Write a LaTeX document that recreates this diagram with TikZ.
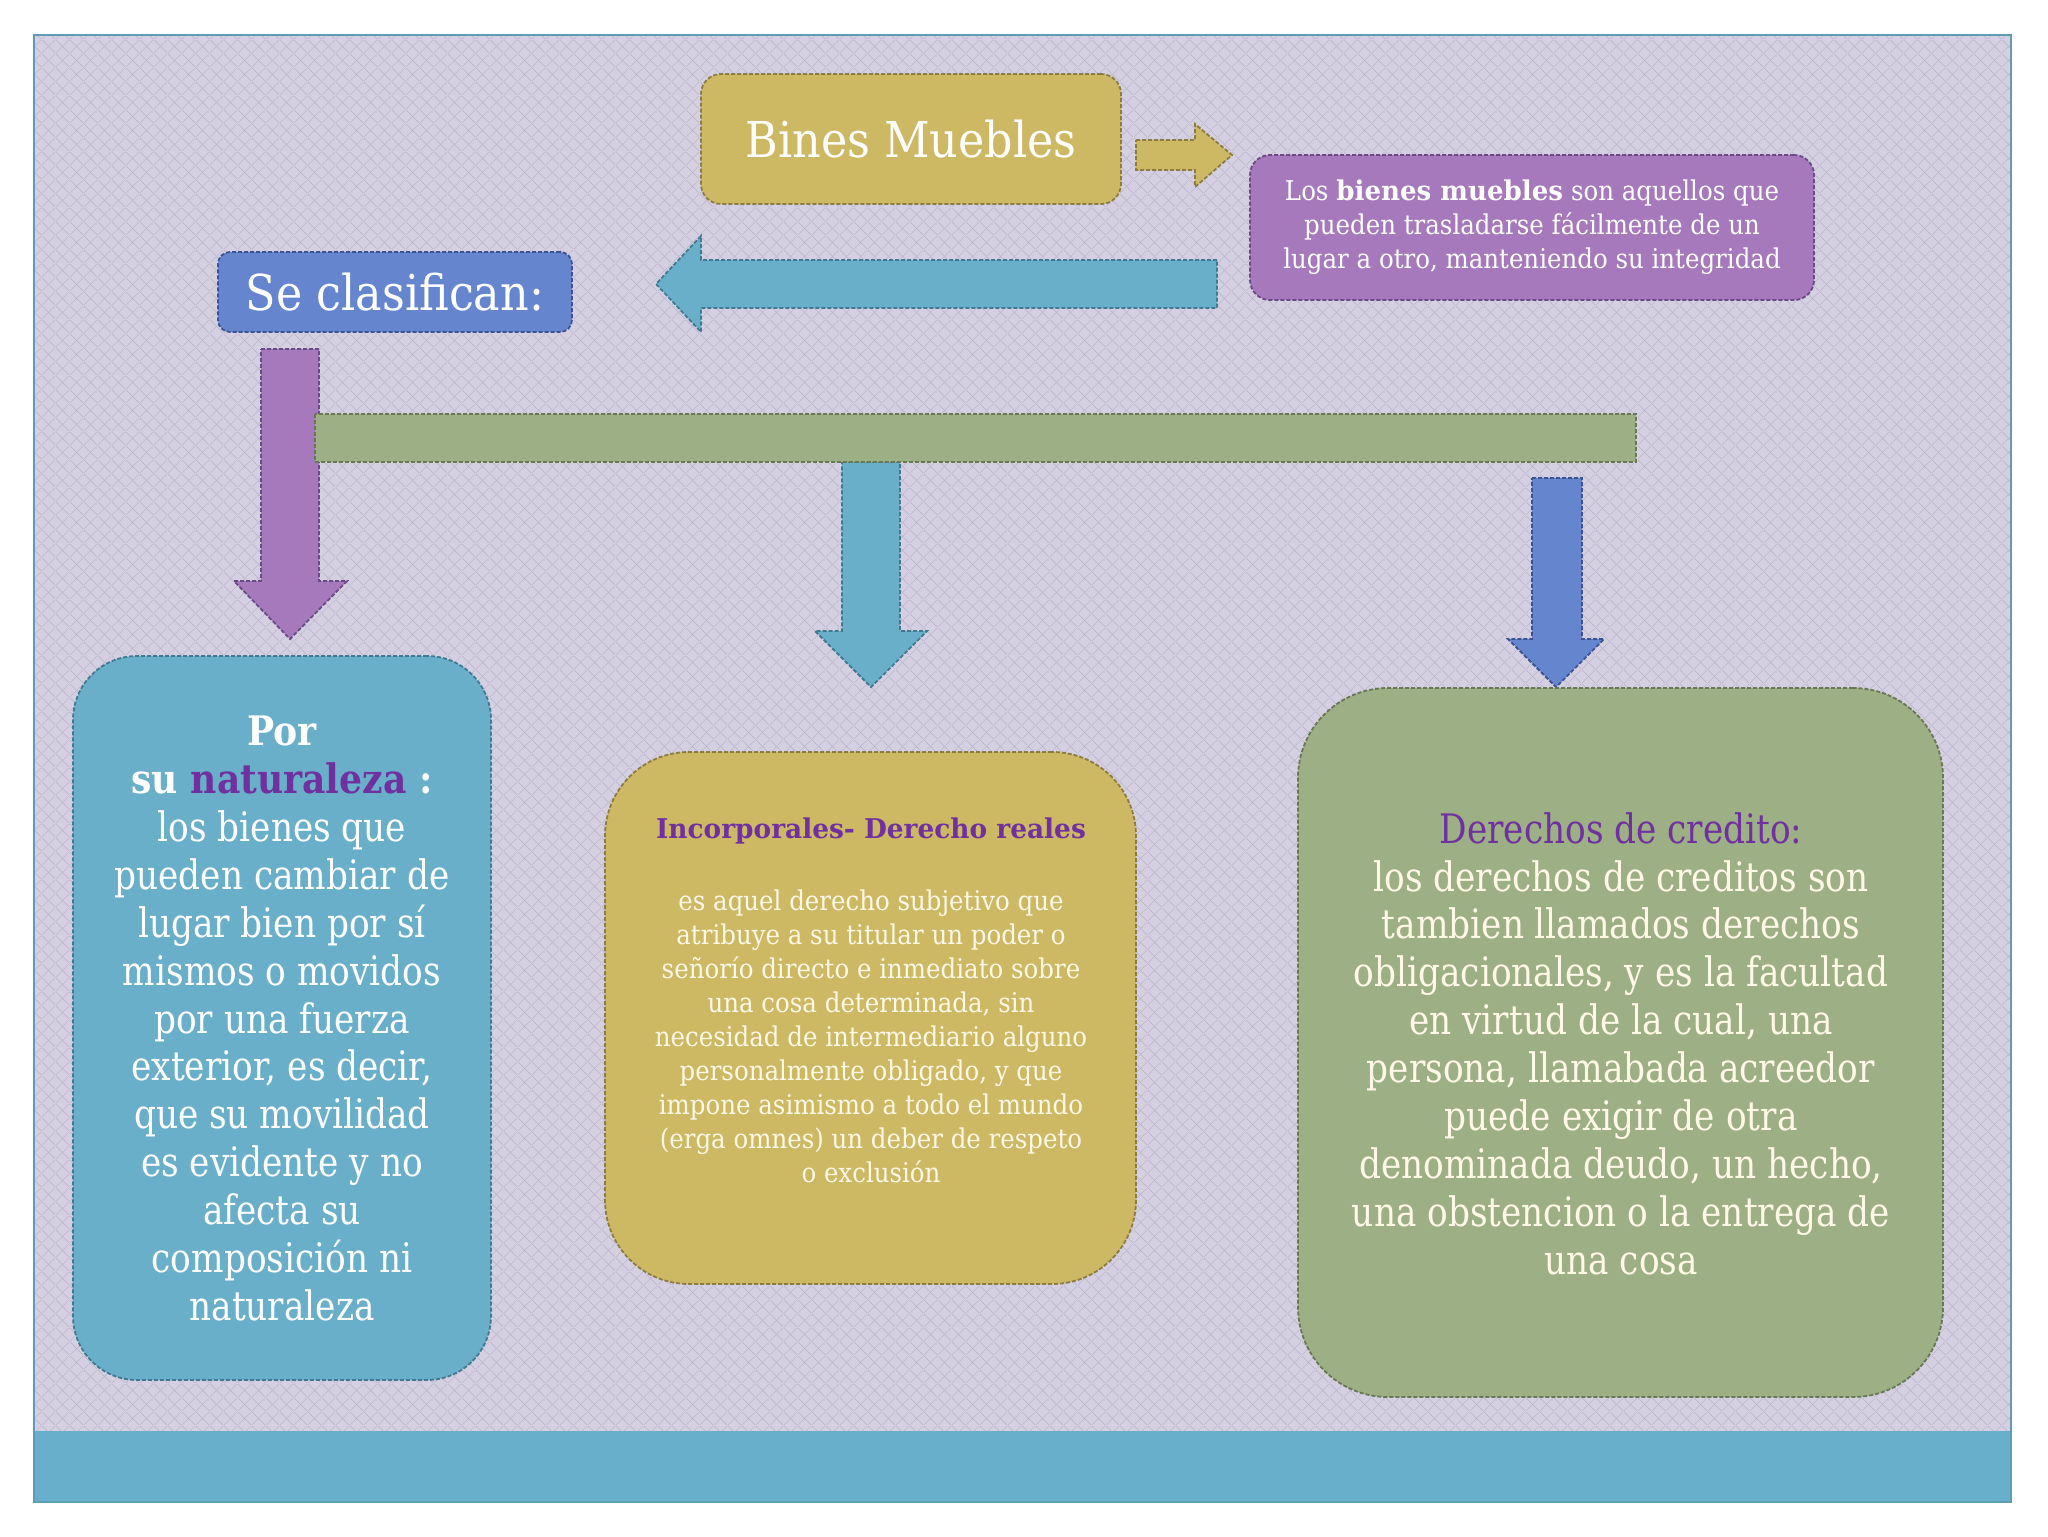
\documentclass[tikz,border=0pt]{standalone}
\usepackage{fontspec}
\setmainfont[FakeStretch=0.90, BoldFeatures={FakeStretch=0.96}]{DejaVu Serif}
\newfontfamily\bodyfont[FakeStretch=0.845, BoldFeatures={FakeStretch=0.89}]{DejaVu Serif}
\newfontfamily\titlefont[FakeStretch=0.97]{DejaVu Serif}
\usetikzlibrary{patterns.meta}
\definecolor{bgc}{HTML}{D4CFE1}
\definecolor{patc}{HTML}{BDB7CC}
\definecolor{framec}{HTML}{5E9DB5}
\definecolor{bandc}{HTML}{67AFCA}
\definecolor{goldc}{HTML}{CDB864}
\definecolor{goldd}{HTML}{8C7C40}
\definecolor{purc}{HTML}{A679BD}
\definecolor{purd}{HTML}{6A4A86}
\definecolor{tealc}{HTML}{6AAFCA}
\definecolor{teald}{HTML}{3F7A90}
\definecolor{bluec}{HTML}{6586CF}
\definecolor{blued}{HTML}{3A5493}
\definecolor{greenc}{HTML}{9CAF85}
\definecolor{greend}{HTML}{687853}
\definecolor{titlec}{HTML}{7030A0}
\definecolor{creamc}{HTML}{FFF8E6}
\tikzdeclarepattern{
  name=bgpat, type=uncolored,
  bounding box={(0pt,0pt) and (7pt,7pt)},
  tile size={(7pt,7pt)},
  code={
    \draw[line width=0.35pt] (0pt,0pt) -- (7pt,7pt) (0pt,7pt) -- (7pt,0pt);
  }
}
\tikzset{
  dash border/.style={dash pattern=on 2pt off 1pt, line width=0.9pt},
  box/.style={dash border, inner sep=0pt, align=center},
}
\begin{document}
\begin{tikzpicture}[x=0.5pt,y=-0.5pt]
\useasboundingbox (0,0) rectangle (2048,1536);
\fill[white] (0,0) rectangle (2048,1536);
\fill[bgc] (34,35) rectangle (2011,1502);
\fill[pattern=bgpat, pattern color=patc] (34,35) rectangle (2011,1431);
\fill[bandc] (34,1431) rectangle (2011,1502);
\draw[framec, line width=1.2pt] (34,35) rectangle (2011,1502);

% top box
\node[box, draw=goldd, fill=goldc, rounded corners=10pt, minimum width=210pt, minimum height=65pt,
  text=white, font=\fontsize{24.7}{30}\selectfont] (bines) at (911,139) {Bines Muebles};

% small right arrow
\draw[dash border, draw=goldd, fill=goldc] (1136,140) -- (1195,140) -- (1195,124) -- (1232,155) -- (1195,187) -- (1195,170) -- (1136,170) -- cycle;

% description box
\node[box, draw=purd, fill=purc, rounded corners=10pt, minimum width=282pt, minimum height=72.5pt,
  text=white, font=\fontsize{13.6}{17}\selectfont] (desc) at (1532,227.5)
  {Los \textbf{bienes muebles} son aquellos que\\pueden trasladarse fácilmente de un\\lugar a otro, manteniendo su integridad};

% big left arrow
\draw[dash border, draw=teald, fill=tealc] (1217,260) -- (701,260) -- (701,236) -- (656,284) -- (701,332) -- (701,308) -- (1217,308) -- cycle;

% se clasifican
\node[box, draw=blued, fill=bluec, rounded corners=6pt, minimum width=177pt, minimum height=40pt,
  text=white, font=\fontsize{24.7}{30}\selectfont] (clas) at (395,292) {Se clasifican:};

% down arrows
\draw[dash border, draw=purd, fill=purc] (261,349) -- (319,349) -- (319,581) -- (347,581) -- (290,639) -- (234,581) -- (261,581) -- cycle;
\draw[dash border, draw=teald, fill=tealc] (842,462) -- (900,462) -- (900,631) -- (927,631) -- (871,687) -- (815,631) -- (842,631) -- cycle;
\draw[dash border, draw=blued, fill=bluec] (1532,478) -- (1582,478) -- (1582,639) -- (1604,639) -- (1556,687) -- (1508,639) -- (1532,639) -- cycle;

% green bar
\draw[dash border, draw=greend, fill=greenc] (315,414) rectangle (1636,462);

% left box
\node[box, draw=teald, fill=tealc, rounded corners=32pt, minimum width=209pt, minimum height=362pt] (nat) at (282,1018) {};
\node[align=center, text=white, font=\fontsize{20.3}{23.95}\bodyfont] (natt) at (282,1018.5)
  {\textbf{Por}\\\textbf{su \textcolor{titlec}{naturaleza} :}\\los bienes que\\pueden cambiar de\\lugar bien por sí\\mismos o movidos\\por una fuerza\\exterior, es decir,\\que su movilidad\\es evidente y no\\afecta su\\composición ni\\naturaleza};

% middle box
\node[box, draw=goldd, fill=goldc, rounded corners=42pt, minimum width=265.5pt, minimum height=266pt] (inc) at (870.5,1018) {};
\node[text=titlec, font=\fontsize{13.6}{17}\titlefont\bfseries] (inct) at (871,831) {Incorporales- Derecho reales};
\node[align=center, text=creamc, font=\fontsize{13.6}{17}\selectfont] (incb) at (871,1036.5)
  {es aquel derecho subjetivo que\\atribuye a su titular un poder o\\señorío directo e inmediato sobre\\una cosa determinada, sin\\necesidad de intermediario alguno\\personalmente obligado, y que\\impone asimismo a todo el mundo\\(erga omnes) un deber de respeto\\o exclusión};

% right box
\node[box, draw=greend, fill=greenc, rounded corners=45pt, minimum width=322.5pt, minimum height=354.5pt] (cred) at (1620.5,1042.5) {};
\node[align=center, text=creamc, font=\fontsize{20.3}{23.95}\bodyfont] (credt) at (1621,1043.5)
  {\textcolor{titlec}{Derechos de credito:}\\los derechos de creditos son\\tambien llamados derechos\\obligacionales, y es la facultad\\en virtud de la cual, una\\persona, llamabada acreedor\\puede exigir de otra\\denominada deudo, un hecho,\\una obstencion o la entrega de\\una cosa};
\end{tikzpicture}
\end{document}
